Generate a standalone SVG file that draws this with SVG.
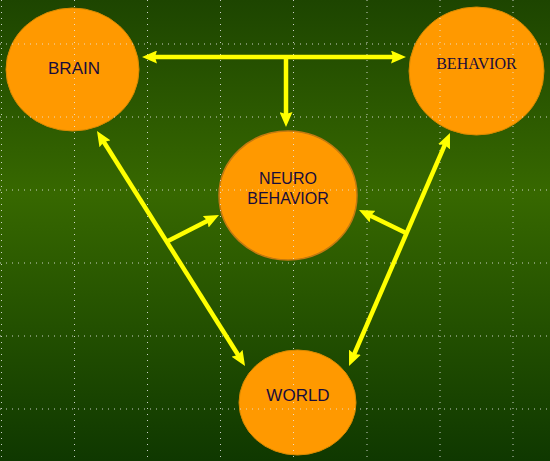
<svg xmlns="http://www.w3.org/2000/svg" width="550" height="461" viewBox="0 0 550 461">
<defs>
<linearGradient id="bg" x1="0" y1="0" x2="0" y2="1">
<stop offset="0" stop-color="#1d4500"/>
<stop offset="0.42" stop-color="#376800"/>
<stop offset="1" stop-color="#0f3800"/>
</linearGradient>
<marker id="ah" viewBox="0 0 15 13" refX="5" refY="6.5" markerWidth="15" markerHeight="13" markerUnits="userSpaceOnUse" orient="auto-start-reverse">
<path d="M0,0 L15,6.5 L0,13 L2,6.5 z" fill="#ffff00"/>
</marker>
</defs>
<style>
.grid line{stroke:#e8e8e8;stroke-width:1;stroke-dasharray:1 5;stroke-opacity:0.85}
.node ellipse{fill:#ff9900;stroke:#d88a00;stroke-width:1}
.lbl{font-family:"Liberation Sans",Arial,sans-serif;font-size:16px;fill:#180c3c;text-anchor:middle}
.serif{font-family:"Liberation Serif","Times New Roman",serif}
.conn line{stroke:#ffff00;stroke-width:4.5;fill:none}
</style>
<rect width="550" height="461" fill="url(#bg)"/>
<g id="nodes-shapes">
<g id="brain" class="node"><ellipse cx="72.5" cy="69.5" rx="66.5" ry="61.5"/></g>
<g id="behavior" class="node"><ellipse cx="476.5" cy="71" rx="67.5" ry="64"/></g>
<g id="neuro" class="node"><ellipse cx="288" cy="195.5" rx="69" ry="64.5" style="stroke:#c47a10;stroke-width:1.5"/></g>
<g id="world" class="node"><ellipse cx="297.5" cy="402.5" rx="58.5" ry="52.5"/></g>
</g>
<g class="grid">
<line x1="1.5" y1="0" x2="1.5" y2="461"/>
<line x1="74.5" y1="0" x2="74.5" y2="461"/>
<line x1="147.5" y1="0" x2="147.5" y2="461"/>
<line x1="220.5" y1="0" x2="220.5" y2="461"/>
<line x1="293.5" y1="0" x2="293.5" y2="461"/>
<line x1="367" y1="0" x2="367" y2="461"/>
<line x1="440" y1="0" x2="440" y2="461"/>
<line x1="513" y1="0" x2="513" y2="461"/>
<line x1="0" y1="44" x2="550" y2="44"/>
<line x1="0" y1="117" x2="550" y2="117"/>
<line x1="0" y1="190" x2="550" y2="190"/>
<line x1="0" y1="263" x2="550" y2="263"/>
<line x1="0" y1="336" x2="550" y2="336"/>
<line x1="0" y1="409" x2="550" y2="409"/>
</g>
<g id="labels">
<text class="lbl" x="74" y="74" style="font-size:17px">BRAIN</text>
<text class="lbl serif" x="476.5" y="69" style="font-size:16px">BEHAVIOR</text>
<text class="lbl" x="288" y="184">NEURO</text>
<text class="lbl" x="288" y="204">BEHAVIOR</text>
<text class="lbl" x="298" y="401" style="font-size:17px">WORLD</text>
</g>
<g id="connectors" class="conn">
<line x1="152" y1="57" x2="396" y2="57" marker-start="url(#ah)" marker-end="url(#ah)"/>
<line x1="286" y1="57" x2="286" y2="117" marker-end="url(#ah)"/>
<line x1="102.3" y1="139.5" x2="239.7" y2="357.5" marker-start="url(#ah)" marker-end="url(#ah)"/>
<line x1="446" y1="142.2" x2="353" y2="356.8" marker-start="url(#ah)" marker-end="url(#ah)"/>
<line x1="167" y1="241.5" x2="210.1" y2="219.5" marker-end="url(#ah)"/>
<line x1="407" y1="233.5" x2="368" y2="214.4" marker-end="url(#ah)"/>
</g>
</svg>
